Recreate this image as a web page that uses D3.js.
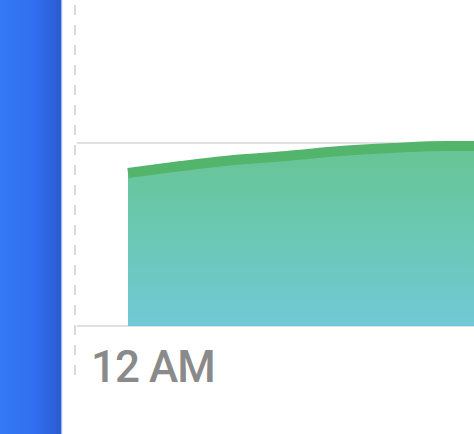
<!DOCTYPE html>
<html>
<head>
<meta charset="utf-8">
<script src="https://cdn.jsdelivr.net/npm/d3@7"></script>
<style>
  html, body { margin: 0; padding: 0; background: #fff; }
  svg { display: block; }
</style>
</head>
<body>
<div id="chart"></div>
<script>
  var horas = [1, 2, 3, 4, 5, 6, 7, 7.6]
  var nivel = [83.6, 87.4, 90.7, 92.9, 95.6, 97.3, 98.4, 98.4]
  var etiquetas = ["12 AM"]
  var etiquetaHoras = [0]
  var rejilla = [0, 100]

  var width = 474,
      height = 434

  var x = d3.scaleLinear()
      .domain([0, 7.53])
      .range([75, 474])

  var y = d3.scaleLinear()
      .domain([0, 100])
      .range([326, 143])

  var datos = horas.map(function (h, i) {
      return { hora: h, valor: nivel[i] }
  })

  var svg = d3.select("#chart").append("svg")
      .attr("width", width)
      .attr("height", height)

  var defs = svg.append("defs")

  var gradAzul = defs.append("linearGradient")
      .attr("id", "azul")
      .attr("x1", "0%").attr("x2", "100%")
      .attr("y1", "0%").attr("y2", "0%")
  gradAzul.append("stop").attr("offset", "0%").attr("stop-color", "#3479f6")
  gradAzul.append("stop").attr("offset", "55%").attr("stop-color", "#316ff0")
  gradAzul.append("stop").attr("offset", "100%").attr("stop-color", "#2a5cd2")

  var gradVerde = defs.append("linearGradient")
      .attr("id", "verde")
      .attr("gradientUnits", "userSpaceOnUse")
      .attr("x1", 0).attr("x2", 0)
      .attr("y1", y(100)).attr("y2", y(0))
  gradVerde.append("stop").attr("offset", "0%").attr("stop-color", "#67c492")
  gradVerde.append("stop").attr("offset", "50%").attr("stop-color", "#6bc8b4")
  gradVerde.append("stop").attr("offset", "100%").attr("stop-color", "#70c9d6")

  // barra lateral
  svg.append("rect")
      .attr("x", 0).attr("y", 0)
      .attr("width", 61).attr("height", height)
      .attr("fill", "url(#azul)")
  svg.append("rect")
      .attr("x", 61).attr("y", 0)
      .attr("width", 1.2).attr("height", height)
      .attr("fill", "#9db9f0")

  // rejilla horizontal
  svg.append("g")
      .selectAll("line")
      .data(rejilla)
      .enter().append("line")
      .attr("x1", 77)
      .attr("x2", width)
      .attr("y1", function (d) { return y(d) })
      .attr("y2", function (d) { return y(d) })
      .attr("stroke", "#e0e0e0")
      .attr("stroke-width", 2)

  // linea vertical discontinua
  svg.append("g")
      .selectAll("line")
      .data(etiquetaHoras)
      .enter().append("line")
      .attr("x1", function (d) { return x(d) })
      .attr("x2", function (d) { return x(d) })
      .attr("y1", 5)
      .attr("y2", 385)
      .attr("stroke", "#dadada")
      .attr("stroke-width", 2)
      .attr("stroke-dasharray", "10,10")

  var area = d3.area()
      .x(function (d) { return x(d.hora) })
      .y0(y(0))
      .y1(function (d) { return y(d.valor) })
      .curve(d3.curveMonotoneX)

  var linea = d3.line()
      .x(function (d) { return x(d.hora) })
      .y(function (d) { return y(d.valor) })
      .curve(d3.curveMonotoneX)

  svg.append("path")
      .datum(datos)
      .attr("fill", "url(#verde)")
      .attr("d", area)

  svg.append("path")
      .datum(datos)
      .attr("fill", "none")
      .attr("stroke", "#52b56b")
      .attr("stroke-width", 10)
      .attr("d", linea)

  // etiquetas eje x
  svg.append("g")
      .selectAll("text")
      .data(etiquetas)
      .enter().append("text")
      .attr("x", function (d, i) { return x(etiquetaHoras[i]) + 16 })
      .attr("y", 382)
      .attr("fill", "#8a8a8a")
      .style("font-family", "Roboto, 'Noto Sans', sans-serif")
      .style("font-weight", 500)
      .style("font-size", "44px")
      .style("letter-spacing", "-1px")
      .text(function (d) { return d })
</script>
</body>
</html>
